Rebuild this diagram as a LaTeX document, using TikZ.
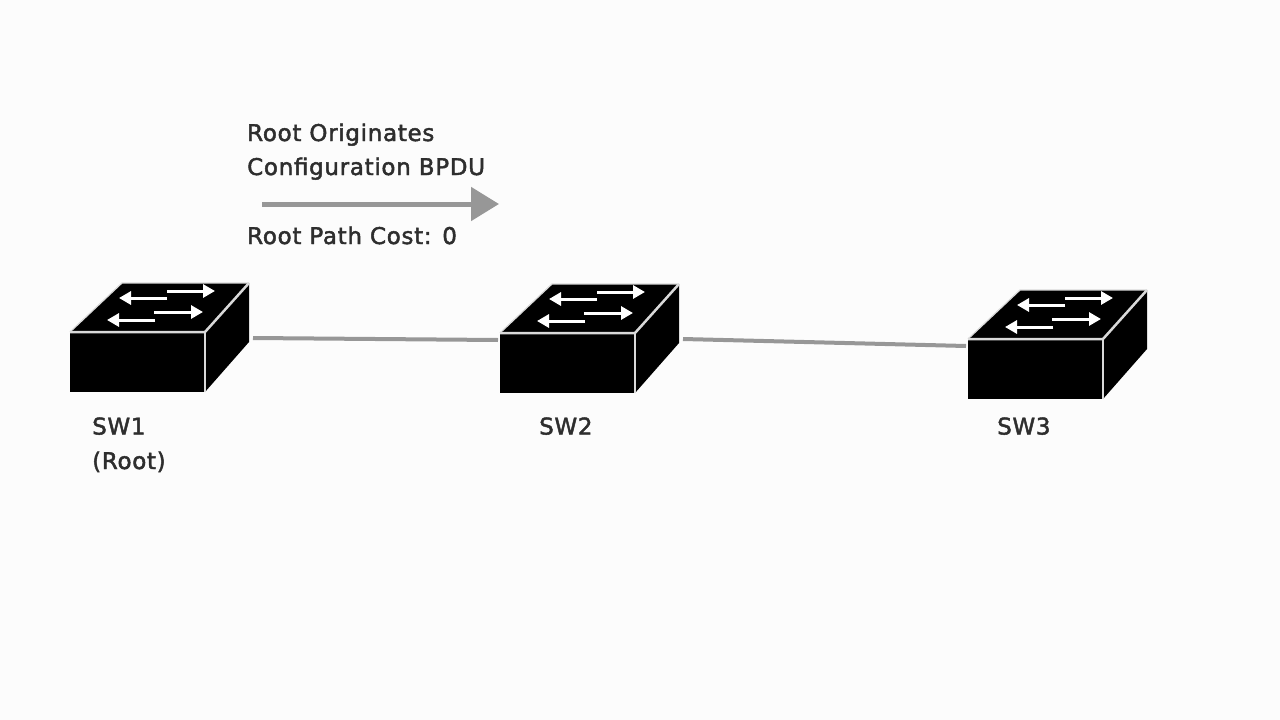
\documentclass[tikz,border=0pt]{standalone}
\usepackage{fontspec}
\setmainfont[FakeBold=2,LetterSpace=3]{DejaVu Sans}
\usetikzlibrary{arrows.meta}

\definecolor{linkgrey}{HTML}{979797}
\definecolor{labelgrey}{HTML}{2e2e2e}

\tikzset{
  label text/.style={anchor=base west, inner sep=0pt, text=labelgrey, align=left, font=\fontsize{23}{34}\selectfont},
  link/.style={draw=linkgrey, line width=4pt},
  flow/.style={draw=linkgrey, fill=linkgrey, line width=5pt, -{Triangle[length=28pt,width=33pt]}},
  face/.style={fill=black, draw=black, line width=0.5pt},
  edge line/.style={draw=white!85!black, line width=2.5pt},
  small arrow/.style={draw=white, line width=3pt, -{Triangle[length=12pt,width=13pt]}},
  pics/switchbox/.style={code={
    \node[face, minimum width=135pt, minimum height=59pt, inner sep=0pt, anchor=north west] (-front) at (0,0) {};
    \fill[black] (0,0) -- (52,-49) -- (179,-49) -- (179,10) -- (135,60) -- (135,0) -- cycle;
    \draw[edge line] (0,0) -- (135,0) -- (179,-49);
    \draw[draw=white!85!black, line width=1.5pt] (135,0) -- (135,60);
    \draw[draw=white!85!black, line width=1.2pt] (0,0) -- (52,-49) -- (179,-49);
    \coordinate (-left) at (-2,7);
    \coordinate (-right) at (183,6);
    \draw[small arrow] (97,-41) -- (145,-41);
    \draw[small arrow] (97,-34) -- (49,-34);
    \draw[small arrow] (84,-20) -- (133,-20);
    \draw[small arrow] (85,-12) -- (37,-12);
  }}
}

\begin{document}
\begin{tikzpicture}[x=1pt, y=-1pt]

\fill[white!99!black] (0,0) rectangle (1280,720);
\useasboundingbox (0,0) rectangle (1280,720);

\pic (sw1) at (70,332) {switchbox};
\pic (sw2) at (500,333) {switchbox};
\pic (sw3) at (968,339) {switchbox};

\draw[link] (sw1-right) -- (sw2-left);
\draw[link] (sw2-right) -- (sw3-left);

\node[label text] (sw1label) at (92,434.5) {SW1};
\node[label text] (rootlabel) at (92,469) {(Root)};
\node[label text] (sw2label) at (539,434.5) {SW2};
\node[label text] (sw3label) at (997,434.5) {SW3};

\node[label text] (title1) at (247,141) {Root Originates};
\node[label text] (title2) at (247,175) {Configuration BPDU};
\node[label text] (cost) at (247,244) {Root Path Cost: 0};

\coordinate (flowstart) at (262,204);
\coordinate (flowend) at (499,204);
\draw[flow] (flowstart) -- (flowend);

\end{tikzpicture}
\end{document}
